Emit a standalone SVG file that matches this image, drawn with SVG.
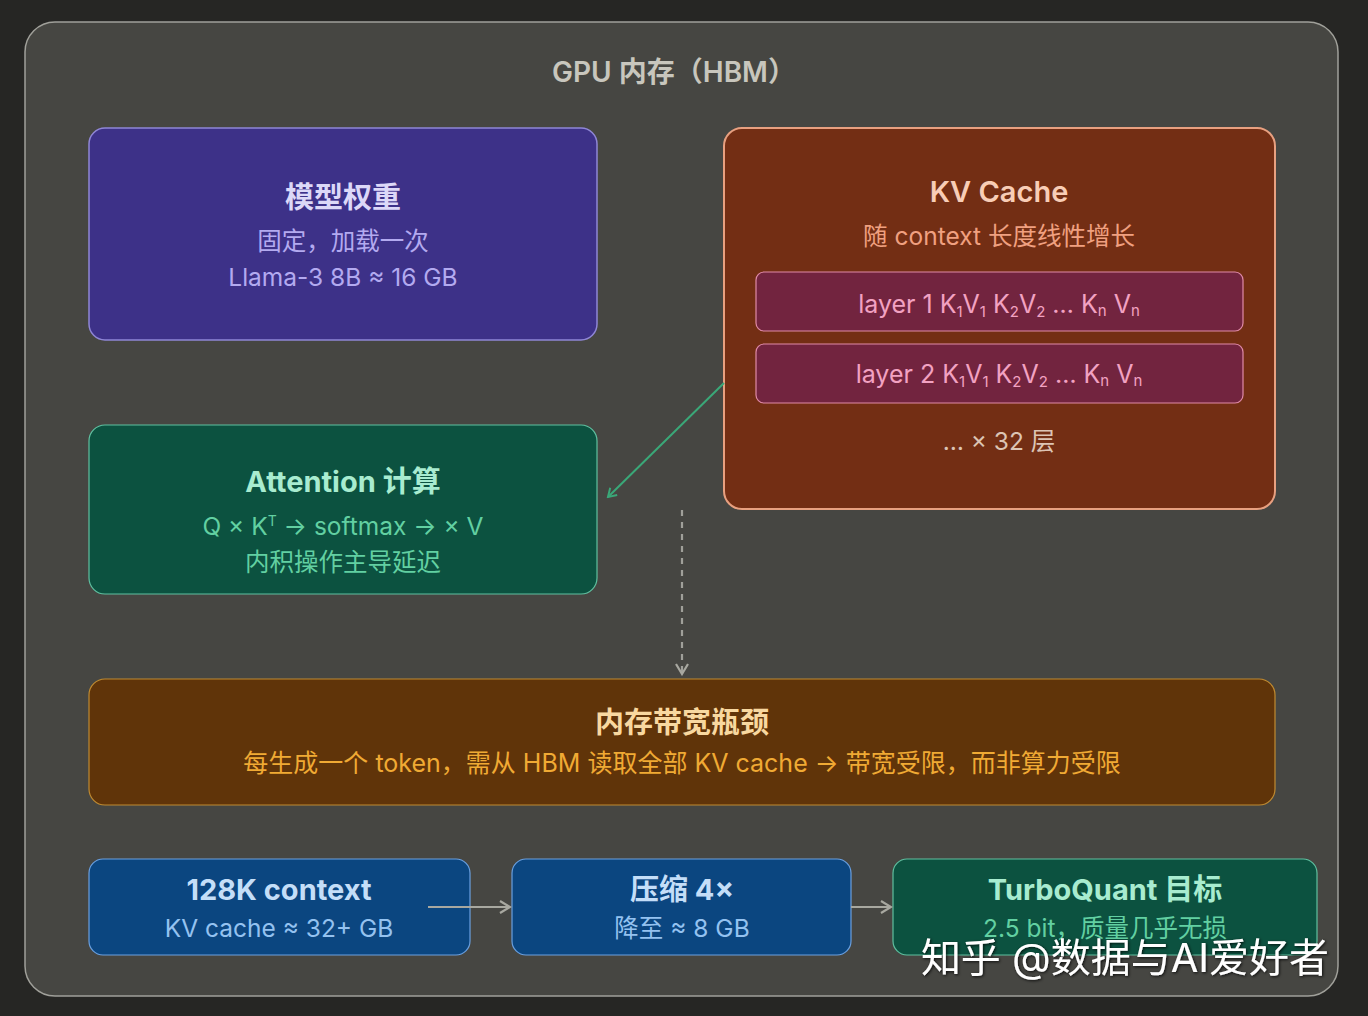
<svg xmlns="http://www.w3.org/2000/svg" width="1368" height="1016" viewBox="0 0 1368 1016">
<defs>
<style>
text{font-family:Inter,"Noto Sans CJK SC","Noto Sans",sans-serif;text-anchor:middle}
.t{font-weight:700;font-size:29px}
.s{font-size:24.5px}
.purple rect{fill:#3d3188;stroke:#8f86d6;stroke-width:1.5}
.purple .t{fill:#dcd8f8}.purple .s{fill:#b3aaf0}
.kv>rect{fill:#732e14;stroke:#e8a080;stroke-width:2}
.row rect{fill:#72243f;stroke:#e08aa8;stroke-width:1.2}
.row text{fill:#f2a2c2;font-size:25px}
.green rect{fill:#0c5240;stroke:#5fc0a0;stroke-width:1.2}
.green .t{fill:#a8ecd0}.green .s{fill:#62d0a2}
.blue rect{fill:#0b4680;stroke:#6aa0e0;stroke-width:1.2}
.blue .t{fill:#c4def8}.blue .s{fill:#94c2f0}
.amber rect{fill:#603409;stroke:#c08a30;stroke-width:1.2}
.amber .t{fill:#f8d8a0}.amber .s{fill:#f0aa34;font-size:25px}
.sub{font-size:15px}
</style>
<marker id="ag" viewBox="0 0 12 12" refX="10" refY="6" markerWidth="12" markerHeight="12" markerUnits="userSpaceOnUse" orient="auto"><path d="M2 1 L10 6 L2 11" fill="none" stroke="#3aa878" stroke-width="2"/></marker>
<marker id="ay" viewBox="0 0 14 14" refX="12" refY="7" markerWidth="14" markerHeight="14" markerUnits="userSpaceOnUse" orient="auto"><path d="M2 1 L12 7 L2 13" fill="none" stroke="#a8a8a0" stroke-width="2.2"/></marker>
<filter id="sh" x="-5%" y="-20%" width="110%" height="140%"><feDropShadow dx="1" dy="1" stdDeviation="1.5" flood-color="#000" flood-opacity="0.8"/></filter>
</defs>
<rect width="1368" height="1016" fill="#262624"/>
<rect x="25" y="22" width="1313" height="974" rx="30" fill="#464642" stroke="#a0a09a" stroke-width="1.5"/>
<text x="674" y="82" font-size="28" fill="#c8c6bd" font-weight="600">GPU 内存（HBM）</text>

<g id="weights" class="purple">
<rect x="89" y="128" width="508" height="212" rx="16"/>
<text class="t" x="343" y="208">模型权重</text>
<text class="s" x="343" y="250">固定，加载一次</text>
<text class="s" x="343" y="286">Llama-3 8B ≈ 16 GB</text>
</g>

<g id="kvcache" class="kv">
<rect x="724" y="128" width="551" height="381" rx="18"/>
<text x="999" y="202" font-size="29" font-weight="600" fill="#f8cdb6">KV Cache</text>
<text x="999" y="245" font-size="24.5" fill="#f0a080">随 context 长度线性增长</text>
<g id="layer1" class="row">
<rect x="756" y="272" width="487" height="59" rx="8"/>
<text x="999" y="313">layer 1 K<tspan class="sub" dy="4">1</tspan><tspan dy="-4">V</tspan><tspan class="sub" dy="4">1</tspan><tspan dy="-4"> K</tspan><tspan class="sub" dy="4">2</tspan><tspan dy="-4">V</tspan><tspan class="sub" dy="4">2</tspan><tspan dy="-4"> … K</tspan><tspan class="sub" dy="3">n</tspan><tspan dy="-3"> V</tspan><tspan class="sub" dy="3">n</tspan></text>
</g>
<g id="layer2" class="row">
<rect x="756" y="344" width="487" height="59" rx="8"/>
<text x="999" y="383">layer 2 K<tspan class="sub" dy="4">1</tspan><tspan dy="-4">V</tspan><tspan class="sub" dy="4">1</tspan><tspan dy="-4"> K</tspan><tspan class="sub" dy="4">2</tspan><tspan dy="-4">V</tspan><tspan class="sub" dy="4">2</tspan><tspan dy="-4"> … K</tspan><tspan class="sub" dy="3">n</tspan><tspan dy="-3"> V</tspan><tspan class="sub" dy="3">n</tspan></text>
</g>
<text x="999" y="450" font-size="24.5" fill="#dcc4b4">… × 32 层</text>
</g>

<g id="attention" class="green">
<rect x="89" y="425" width="508" height="169" rx="16"/>
<text class="t" x="343" y="492">Attention 计算</text>
<text class="s" x="343" y="535">Q × K<tspan font-size="14" dy="-9">T</tspan><tspan dy="9"> → softmax → × V</tspan></text>
<text class="s" x="343" y="571">内积操作主导延迟</text>
</g>

<g id="bottleneck" class="amber">
<rect x="89" y="679" width="1186" height="126" rx="16"/>
<text class="t" x="682" y="733">内存带宽瓶颈</text>
<text class="s" x="682" y="772">每生成一个 token，需从 HBM 读取全部 KV cache → 带宽受限，而非算力受限</text>
</g>

<g id="ctx" class="blue">
<rect x="89" y="859" width="381" height="96" rx="14"/>
<text class="t" x="279" y="900">128K context</text>
<text class="s" x="279" y="937">KV cache ≈ 32+ GB</text>
</g>
<g id="compress" class="blue">
<rect x="512" y="859" width="339" height="96" rx="14"/>
<text class="t" x="682" y="900">压缩 4×</text>
<text class="s" x="682" y="937">降至 ≈ 8 GB</text>
</g>
<g id="turbo" class="green">
<rect x="893" y="859" width="424" height="96" rx="14"/>
<text class="t" x="1105" y="900">TurboQuant 目标</text>
<text class="s" x="1105" y="937">2.5 bit，质量几乎无损</text>
</g>

<g id="connectors" fill="none">
<line x1="724" y1="383" x2="608" y2="497" stroke="#3aa878" stroke-width="2" marker-end="url(#ag)"/>
<line x1="682" y1="510" x2="682" y2="674" stroke="#a0a09a" stroke-width="2.2" stroke-dasharray="6 6" marker-end="url(#ay)"/>
<line x1="428" y1="907" x2="510" y2="907" stroke="#a8a8a0" stroke-width="2.2" marker-end="url(#ay)"/>
<line x1="851" y1="907" x2="891" y2="907" stroke="#a8a8a0" stroke-width="2.2" marker-end="url(#ay)"/>
</g>

<text x="1125" y="972" font-size="40" fill="#ffffff" filter="url(#sh)" font-family="'Noto Sans CJK SC',sans-serif">知乎 @数据与AI爱好者</text>
</svg>
